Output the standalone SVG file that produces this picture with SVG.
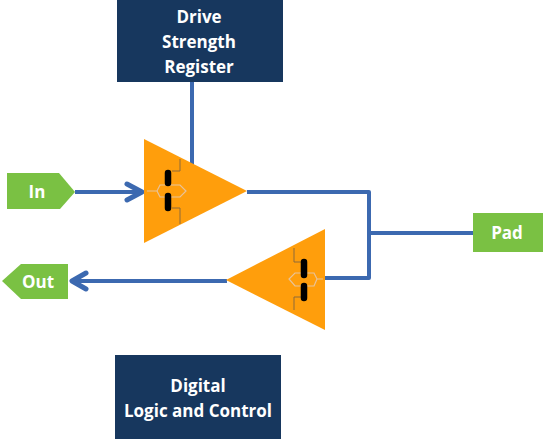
<svg xmlns="http://www.w3.org/2000/svg" width="544" height="441" viewBox="0 0 544 441">
<style>
.box{fill:#17375e}
.green{fill:#7ac143}
.tri{fill:#ff9e0c}
.t{font-family:"Open Sans","Liberation Sans",sans-serif;font-weight:700;font-size:17px;text-anchor:middle}
.w{fill:#fff}
.wire{fill:none;stroke:#3c69b0;stroke-width:4;stroke-linejoin:round}
.head{fill:none;stroke:#3c69b0;stroke-width:5;stroke-linecap:round;stroke-linejoin:round}
.thin{fill:none;stroke:#8d6a3a;stroke-width:1}
.pale{fill:none;stroke:#e8c39a;stroke-width:1.2}
.gate{fill:none;stroke:#000;stroke-width:6.5;stroke-linecap:round}
</style>
<rect width="544" height="441" fill="#fff"/>
<g id="connectors">
<path class="wire" d="M192 82V165"/>
<path class="wire" d="M75 192H143"/>
<path class="head" d="M127 184L142 192L127 200"/>
<path class="wire" d="M247 192H369V278H323"/>
<path class="wire" d="M369 233H474"/>
<path class="wire" d="M227 281H72"/>
<path class="head" d="M86 273L72 281L86 289"/>
</g>
<g id="drive-strength">
<rect class="box" x="117" y="0" width="166" height="82"/>
<text class="t w" x="199" y="23">Drive</text>
<text class="t w" x="199" y="48">Strength</text>
<text class="t w" x="199" y="73">Register</text>
</g>
<g id="in">
<path class="green" d="M7 173H59L75 192L60 209H7Z"/>
<text class="t w" x="37" y="198">In</text>
</g>
<g id="driver">
<path class="tri" d="M144 139L247 191L144 243Z"/>
<path class="pale" d="M147 191H157L160 185H180L186 191L180 197H160L157 191"/>
<path class="thin" d="M180 159V171H172M180 224V208H172"/>
<path class="gate" d="M168 173V183M168 196V208"/>
</g>
<g id="receiver">
<path class="tri" d="M325 229V330L226 280Z"/>
<path class="pale" d="M323 279H317L314 273H295L289 279L295 286H314L317 279"/>
<path class="thin" d="M294 248V262H303M294 310V297H303"/>
<path class="gate" d="M304 262V275M304 286V298"/>
</g>
<g id="pad">
<rect class="green" x="473" y="213" width="70" height="39"/>
<text class="t w" x="507" y="239">Pad</text>
</g>
<g id="out">
<path class="green" d="M2 281L21 264H68V299H21Z"/>
<text class="t w" x="38" y="288">Out</text>
</g>
<g id="digital">
<rect class="box" x="115" y="355" width="166" height="84"/>
<text class="t w" x="198" y="392">Digital</text>
<text class="t w" x="198" y="417">Logic and Control</text>
</g>
</svg>
